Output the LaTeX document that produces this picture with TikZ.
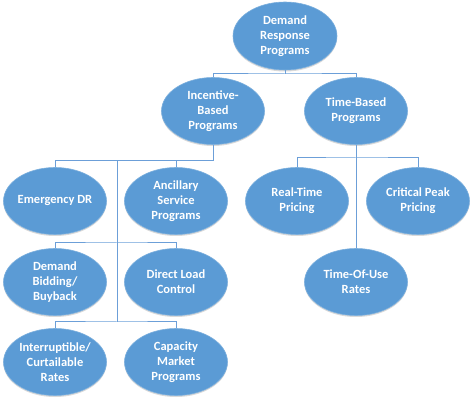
\documentclass[tikz,border=0pt]{standalone}
\usepackage{fontspec}
\setmainfont{Carlito}
\usetikzlibrary{shapes.geometric, shadows}
\definecolor{drblue}{HTML}{5B9BD5}
\definecolor{drline}{HTML}{6C9FD8}

\begin{document}
\begin{tikzpicture}[x=1pt, y=-1pt,
    prog/.style={ellipse, fill=drblue, draw=drblue!80!white, line width=0.6pt,
        text=white, font=\bfseries\fontsize{12.5}{15}\selectfont, align=center,
        minimum width=103pt, minimum height=67pt, inner xsep=-8pt, inner ysep=0pt,
        drop shadow={shadow xshift=0pt, shadow yshift=-1.5pt, opacity=0.25, fill=black!60}},
    link/.style={drline, line width=1pt}]
    \useasboundingbox (0,0) rectangle (474,403);

    % Top level
    \node[prog, minimum width=104pt, minimum height=68pt] (root) at (285,36) {Demand\\Response\\Programs};
    \node[prog] (inc) at (213,111) {Incentive-\\Based\\Programs};
    \node[prog] (tim) at (356,111) {Time-Based\\Programs};

    % LEFT: incentive based
    \node[prog] (emd) at (55,201) {Emergency DR};
    \node[prog] (anc) at (176,201) {Ancillary\\Service\\Programs};
    \node[prog] (dbb) at (55,282) {Demand\\Bidding/\\Buyback};
    \node[prog] (dlc) at (176,282) {Direct Load\\Control};
    \node[prog] (icr) at (55,362) {Interruptible/\\Curtailable\\Rates};
    \node[prog] (cmp) at (176,362) {Capacity\\Market\\Programs};

    % RIGHT: time based
    \node[prog] (rtp) at (297,201) {Real-Time\\Pricing};
    \node[prog] (cpp) at (418,201) {Critical Peak\\Pricing};
    \node[prog] (tou) at (356,282) {Time-Of-Use\\Rates};

    % Bus points
    \coordinate (b0) at (285,74);
    \coordinate (b1) at (213,161);
    \coordinate (t1) at (117,161);
    \coordinate (t2) at (117,243);
    \coordinate (t3) at (117,322);
    \coordinate (b2) at (356,158);

    % Connectors
    \draw[link] (root) -- (b0);
    \draw[link] (inc) |- (b0) -| (tim);
    \draw[link] (inc) -- (b1);
    \draw[link] (emd) |- (b1);
    \draw[link] (anc) -- (anc |- b1);
    \draw[link] (t1) -- (t3);
    \draw[link] (dbb) |- (t2) -| (dlc);
    \draw[link] (icr) |- (t3) -| (cmp);
    \draw[link] (tim) -- (tou);
    \draw[link] (rtp) |- (b2) -| (cpp);
\end{tikzpicture}
\end{document}
